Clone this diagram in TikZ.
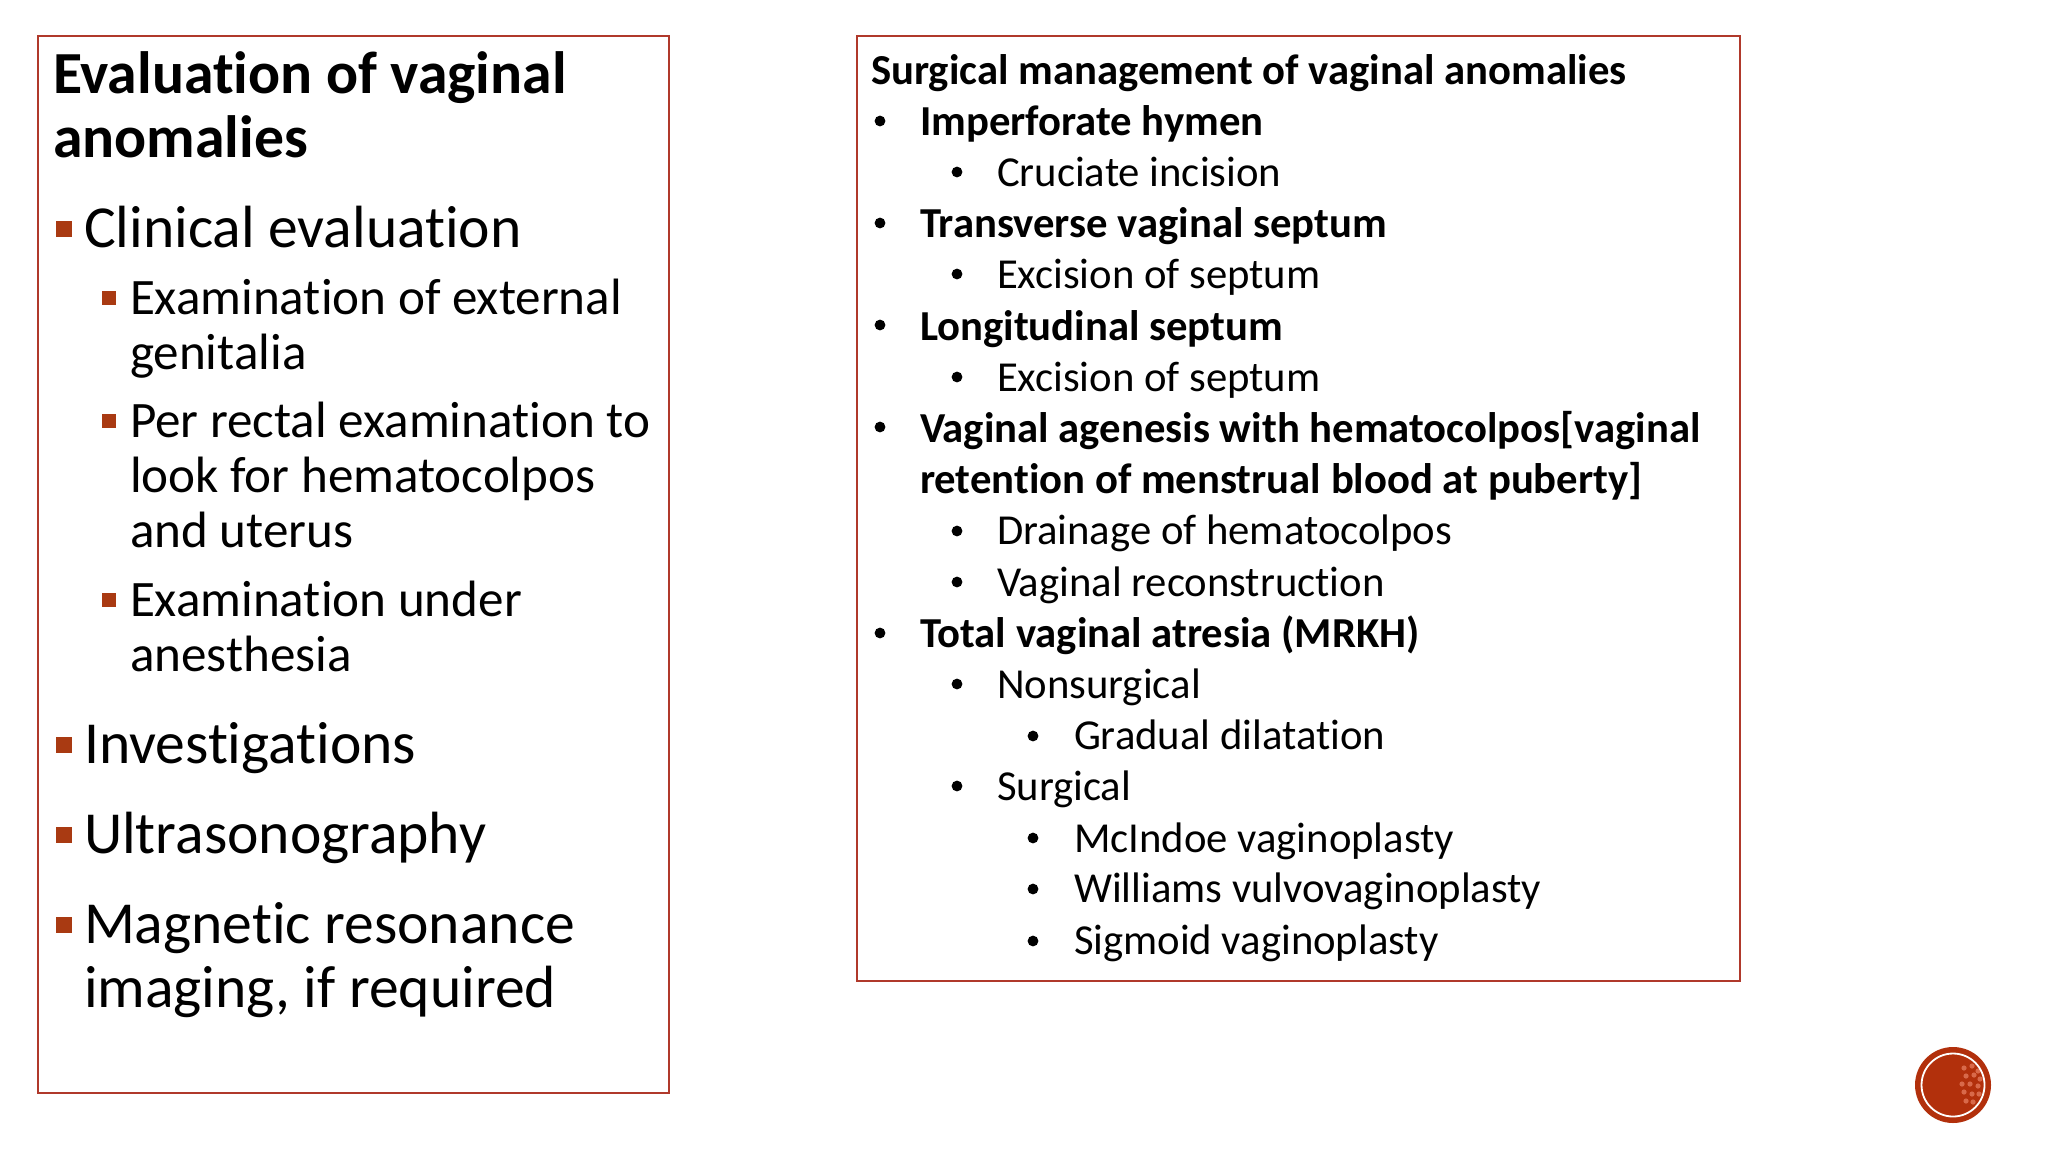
\documentclass[tikz,border=0pt]{standalone}
\usepackage{fontspec}
\setmainfont{Carlito}[RawFeature={-liga}]
\definecolor{sealred}{HTML}{B2300C}
\definecolor{sealspot}{HTML}{D8694A}
\definecolor{boxred}{HTML}{B0392B}
\definecolor{markred}{HTML}{A93A12}
\tikzset{
  panel/.style={draw=boxred,line width=1.2pt},
  linetext/.style={anchor=base west,inner sep=0pt,outer sep=0pt,text=black},
  headtext/.style={linetext,font=\fontsize{29.85}{34}\selectfont\bfseries},
  bigtext/.style={linetext,font=\fontsize{29.8}{34}\selectfont},
  smalltext/.style={linetext,font=\fontsize{25.55}{30}\selectfont},
  listtext/.style={linetext,font=\fontsize{21.35}{26}\selectfont},
  listbold/.style={listtext,font=\fontsize{21.35}{26}\selectfont\bfseries},
  bigmark/.style={fill=markred,minimum size=7.8pt,inner sep=0pt},
  smallmark/.style={fill=markred,minimum size=6.6pt,inner sep=0pt},
  dotmark/.style={circle,fill=black,minimum size=5.4pt,inner sep=0pt},
  sealdot/.style={circle,fill=sealspot,minimum size=2.6pt,inner sep=0pt}
}
\begin{document}
\begin{tikzpicture}[x=0.5pt,y=-0.5pt]
    \useasboundingbox (0,0) rectangle (2048,1152);
    \node[panel,minimum width=631pt*0.5,minimum height=1057pt*0.5,anchor=north west,inner sep=0pt] (evalbox) at (37,35) {};
    \node[panel,minimum width=883pt*0.5,minimum height=945pt*0.5,anchor=north west,inner sep=0pt] (surgbox) at (856,35) {};
    % left panel
    \foreach \n/\y/\txt in {a/93/Evaluation of vaginal,b/157/anomalies}
        \node[headtext] (head\n) at (53,\y) {\txt};
    \foreach \n/\y/\txt in {a/247/Clinical evaluation,b/763/Investigations,c/853/Ultrasonography,d/943/Magnetic resonance,e/1007/{imaging, if required}}
        \node[bigtext] (big\n) at (84,\y) {\txt};
    \foreach \n/\y/\txt in {a/314/Examination of external,b/369/genitalia,c/437/Per rectal examination to,d/492/look for hematocolpos,e/547/and uterus,f/616/Examination under,g/671/anesthesia}
        \node[smalltext] (small\n) at (130,\y) {\txt};
    \foreach \n/\y in {a/229,b/745,c/835,d/925}
        \node[bigmark] (bigm\n) at (64,\y) {};
    \foreach \n/\y in {a/298,b/421,c/600}
        \node[smallmark] (smallm\n) at (109,\y) {};
    % right panel
    \node[listbold] (title) at (871,84) {Surgical management of vaginal anomalies};
    \foreach \n/\y/\txt in {a/135/Imperforate hymen,b/237/Transverse vaginal septum,c/340/Longitudinal septum,d/442/Vaginal agenesis with hematocolpos[vaginal,e/493/retention of menstrual blood at puberty],f/647/Total vaginal atresia (MRKH)}
        \node[listbold] (bold\n) at (920,\y) {\txt};
    \foreach \n/\y/\txt in {a/186/Cruciate incision,b/288/Excision of septum,c/391/Excision of septum,d/544/Drainage of hematocolpos,e/596/Vaginal reconstruction,f/698/Nonsurgical,g/800/Surgical}
        \node[listtext] (sub\n) at (997,\y) {\txt};
    \foreach \n/\y/\txt in {a/749/Gradual dilatation,b/852/McIndoe vaginoplasty,c/902/Williams vulvovaginoplasty,d/954/Sigmoid vaginoplasty}
        \node[listtext] (subsub\n) at (1074,\y) {\txt};
    \foreach \n/\x/\y in {a/880/121,b/880/223,c/880/325,d/880/427,e/880/633,f/957/172,g/957/274,h/957/377,i/957/531,j/957/582,k/957/684,l/957/786,m/1033/736,n/1033/838,o/1033/889,p/1033/941}
        \node[dotmark] (dot\n) at (\x,\y) {};
    % seal
    \node[circle,fill=sealred,minimum size=38pt,inner sep=0pt] (seal) at (1953,1085) {};
    \foreach \n/\x/\y in {a/1964/1068,b/1972/1066,c/1978/1071,d/1966/1076,e/1974/1075,f/1980/1079,g/1962/1084,h/1970/1084,i/1978/1086,j/1964/1092,k/1972/1094,l/1979/1094,m/1966/1101,n/1973/1102}
        \node[sealdot] (spot\n) at (\x,\y) {};
    \node[circle,draw=white,line width=0.9pt,minimum size=31.5pt,inner sep=0pt] (sealring) at (seal) {};
\end{tikzpicture}
\end{document}
